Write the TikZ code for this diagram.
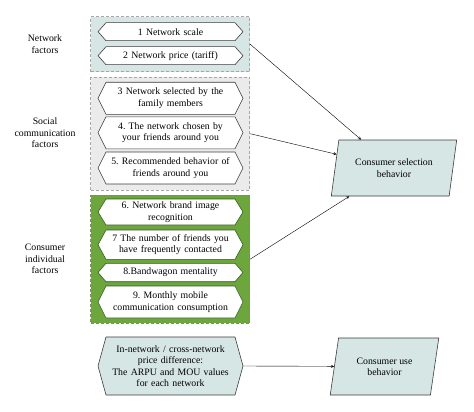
\documentclass[tikz,border=0pt]{standalone}
\usepackage{fontspec}
\setmainfont{Liberation Serif}
\frenchspacing
\usetikzlibrary{calc,shapes.geometric}
\definecolor{paleteal}{RGB}{214,230,228}
\definecolor{palegray}{RGB}{235,235,235}
\definecolor{leafgreen}{RGB}{108,166,60}
\definecolor{darkline}{RGB}{60,60,60}
\definecolor{darkleaf}{RGB}{50,90,30}
\tikzset{
 hexline/.style={draw=darkline,line width=0.6pt,line join=round},
 factortext/.style={text width=136pt,align=center,inner sep=0pt,minimum width=145pt},
 groupbox/.style={draw=gray!70,dash pattern=on 3pt off 2pt,line width=0.7pt,inner sep=0pt,minimum width=159pt},
 behaviour/.style={trapezium,trapezium left angle=77,trapezium right angle=103,trapezium stretches=true,draw=darkline,fill=paleteal,line width=0.6pt,align=center},
}
\newcommand{\factor}[5][fill=white]{%
 \draw[hexline,#1] ($(#3)+(-72.5,0)$) -- ($(#3)+(-64.5,-#4)$) -- ($(#3)+(64.5,-#4)$) -- ($(#3)+(72.5,0)$) -- ($(#3)+(64.5,#4)$) -- ($(#3)+(-64.5,#4)$) -- cycle;%
 \node (#2) [factortext] at (#3) {#5};%
}

\begin{document}
\begin{tikzpicture}[x=1pt,y=-1pt,every node/.style={font=\fontsize{9.8}{11.4}\selectfont},>=stealth]
 \useasboundingbox (0,0) rectangle (474,412);
 % factor groups
 \node (netgrp) [groupbox,fill=paleteal,minimum height=55pt] at (170.3,44.2) {};
 \node (socgrp) [groupbox,fill=palegray,minimum height=112.7pt] at (170.3,133.7) {};
 \node (indgrp) [groupbox,fill=leafgreen,draw=leafgreen!50!gray,minimum height=128pt] at (170.3,259.2) {};
 \node (netlbl) [align=center] at (45,44) {Network\\factors};
 \node (soclbl) [align=center] at (45,133) {Social\\communication\\factors};
 \node (indlbl) [align=center] at (45,259) {Consumer\\individual\\factors};
 \factor{f1}{170.5,31.7}{9}{1 Network scale}
 \factor{f2}{170.5,55.7}{9}{2 Network price (tariff)}
 \factor{f3}{170.5,98.3}{16}{3 Network selected by the\\family members}
 \factor{f4}{170.5,132.8}{16}{4. The network chosen by\\your friends around you}
 \factor{f5}{170.5,168}{16}{5. Recommended behavior of\\friends around you}
 \factor[fill=white,draw=darkleaf]{f6}{170.5,212}{13}{6. Network brand image\\recognition}
 \factor[fill=white,draw=darkleaf]{f7}{170.5,244.7}{14.7}{7 The number of friends you\\have frequently contacted}
 \factor[fill=white,draw=darkleaf]{f8}{170.5,272.5}{9.2}{8.Bandwagon mentality}
 \factor[fill=white,draw=darkleaf]{f9}{170.5,302}{16}{9. Monthly mobile\\communication consumption}
 \factor[fill=paleteal]{pricegap}{170.5,366}{29}{In-network / cross-network\\price difference:\\The ARPU and MOU values\\for each network}
 % behaviours
 \node (selbeh) [behaviour,minimum width=126pt,minimum height=56pt] at (394,168) {Consumer selection\\behavior};
 \node (usebeh) [behaviour,minimum width=109pt,minimum height=57pt] at (384.5,366.5) {Consumer use\\behavior};
 \draw[->] (netgrp.east) -- (selbeh);
 \draw[->] (socgrp.east) -- (selbeh);
 \draw[->] (indgrp.east) -- (selbeh);
 \draw[->] (pricegap.east) -- (usebeh);
\end{tikzpicture}
\end{document}
